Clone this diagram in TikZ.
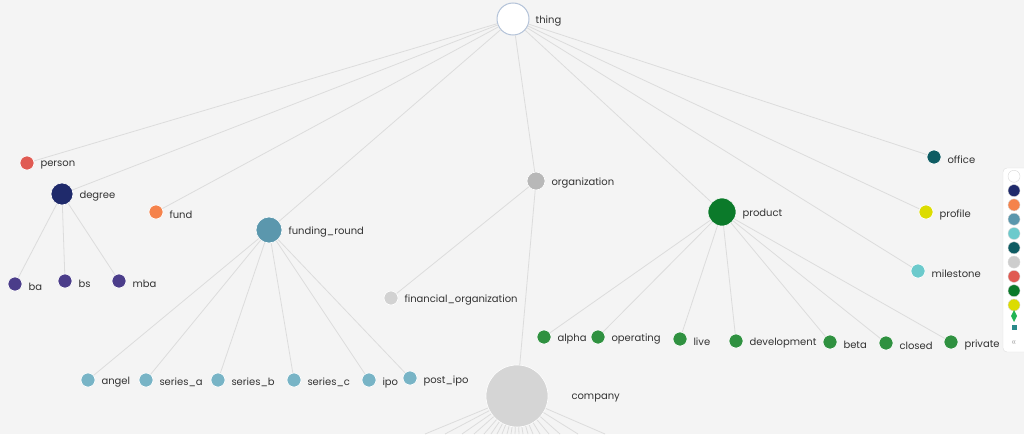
\documentclass[tikz,border=0pt]{standalone}
\usepackage{fontspec}
\setmainfont{Poppins}
\usetikzlibrary{positioning}
\definecolor{bgcol}{HTML}{F4F4F4}
\definecolor{edgecol}{HTML}{DCDCDC}
\definecolor{txtcol}{HTML}{333333}
\definecolor{thingring}{HTML}{B3C2D8}
\definecolor{personcol}{HTML}{E05A52}
\definecolor{degreecol}{HTML}{1F2A6B}
\definecolor{fundcol}{HTML}{F5834C}
\definecolor{roundcol}{HTML}{5B97AD}
\definecolor{orgcol}{HTML}{B8B8B8}
\definecolor{productcol}{HTML}{0B7A2A}
\definecolor{officecol}{HTML}{0E5C63}
\definecolor{profilecol}{HTML}{DCDC00}
\definecolor{milestonecol}{HTML}{6CCACC}
\definecolor{degsubcol}{HTML}{4B3D8A}
\definecolor{finorgcol}{HTML}{D2D2D2}
\definecolor{roundsubcol}{HTML}{78B4C6}
\definecolor{companycol}{HTML}{D5D5D5}
\definecolor{prodsubcol}{HTML}{2F9140}
\definecolor{legdiamond}{HTML}{22B455}
\definecolor{legsquare}{HTML}{2A8A8A}
\tikzset{
  edge/.style={draw=edgecol, line width=0.8pt},
  dot/.style={circle, inner sep=0pt, minimum size=#1, draw=white, line width=0.6pt},
  lbl/.style={font=\fontsize{10}{12}\selectfont, text=txtcol, inner sep=1pt},
  every label/.style={lbl, yshift=-2.5pt},
  label distance=5pt,
}
\begin{document}
\begin{tikzpicture}[x=1pt, y=-1pt]
\useasboundingbox (0,0) rectangle (1024,434);
\fill[bgcol] (0,0) rectangle (1024,434);
% top level
\node[dot=32, fill=white, draw=thingring, line width=1pt, label=right:thing] (thing) at (513,19) {};
\node[dot=14, fill=personcol, label=right:person] (person) at (27,163) {};
\node[dot=22, fill=degreecol, label=right:degree] (degree) at (62,194) {};
\node[dot=14, fill=fundcol, label=right:fund] (fund) at (156,212) {};
\node[dot=26, fill=roundcol, label=right:funding\_round] (round) at (269,230) {};
\node[dot=18, fill=orgcol, label=right:organization] (org) at (536,181) {};
\node[dot=28, fill=productcol, label=right:product] (product) at (722,212) {};
\node[dot=14, fill=officecol, label=right:office] (office) at (934,157) {};
\node[dot=14, fill=profilecol, label=right:profile] (profile) at (926,212) {};
\node[dot=14, fill=milestonecol, label=right:milestone] (milestone) at (918,271) {};
% degree
\node[dot=14, fill=degsubcol, label=right:ba] (ba) at (15,284) {};
\node[dot=14, fill=degsubcol, label=right:bs] (bs) at (65,281) {};
\node[dot=14, fill=degsubcol, label=right:mba] (mba) at (119,281) {};
% funding round
\node[dot=14, fill=roundsubcol, label=right:angel] (angel) at (88,380) {};
\node[dot=14, fill=roundsubcol, label=right:series\_a] (seriesa) at (146,380) {};
\node[dot=14, fill=roundsubcol, label=right:series\_b] (seriesb) at (218,380) {};
\node[dot=14, fill=roundsubcol, label=right:series\_c] (seriesc) at (294,380) {};
\node[dot=14, fill=roundsubcol, label=right:ipo] (ipo) at (369,380) {};
\node[dot=14, fill=roundsubcol, label=right:post\_ipo] (postipo) at (410,378) {};
% organization
\node[dot=14, fill=finorgcol, label=right:financial\_organization] (finorg) at (391,298) {};
\node[dot=62, fill=companycol, label={[label distance=22pt]right:company}] (company) at (517,396) {};
% product
\node[dot=14, fill=prodsubcol, label=right:alpha] (alpha) at (544,337) {};
\node[dot=14, fill=prodsubcol, label=right:operating] (operating) at (598,337) {};
\node[dot=14, fill=prodsubcol, label=right:live] (live) at (680,339) {};
\node[dot=14, fill=prodsubcol, label=right:development] (development) at (736,341) {};
\node[dot=14, fill=prodsubcol, label=right:beta] (beta) at (830,342) {};
\node[dot=14, fill=prodsubcol, label=right:closed] (closed) at (886,343) {};
\node[dot=14, fill=prodsubcol, label=right:private] (private) at (951,342) {};
% edges
\foreach \a/\b in {thing/person, thing/degree, thing/fund, thing/round, thing/org,
  thing/product, thing/office, thing/profile, thing/milestone,
  degree/ba, degree/bs, degree/mba,
  round/angel, round/seriesa, round/seriesb, round/seriesc, round/ipo, round/postipo,
  org/finorg, org/company,
  product/alpha, product/operating, product/live, product/development,
  product/beta, product/closed, product/private}
  \draw[edge] (\a) -- (\b);
% company fan, cut by the frame
\foreach \x [count=\i] in {425,445,462,474,484,491,497,502,507,511,515,519,523,528,533,540,549,560,578,605} {
  \coordinate (fan\i) at (\x,434);
  \draw[edge] (company) -- (fan\i);
}
% legend
\draw[draw=gray!25, fill=white, rounded corners=4pt] (1003,168) rectangle (1040,352);
\foreach \c [count=\i] in {white, degreecol, fundcol, roundcol, milestonecol, officecol, finorgcol!110, personcol, productcol, profilecol}
  \node[dot=12, fill=\c, draw=gray!30, line width=0.4pt] (leg\i) at (1014,162+14.3*\i) {};
\fill[legdiamond] (1014,310) -- (1017,316) -- (1014,322) -- (1011,316) -- cycle;
\fill[legsquare] (1011.5,324.5) rectangle (1016.5,329.5);
\node[lbl, text=gray!60] (legfold) at (1014,343) {«};
\end{tikzpicture}
\end{document}
